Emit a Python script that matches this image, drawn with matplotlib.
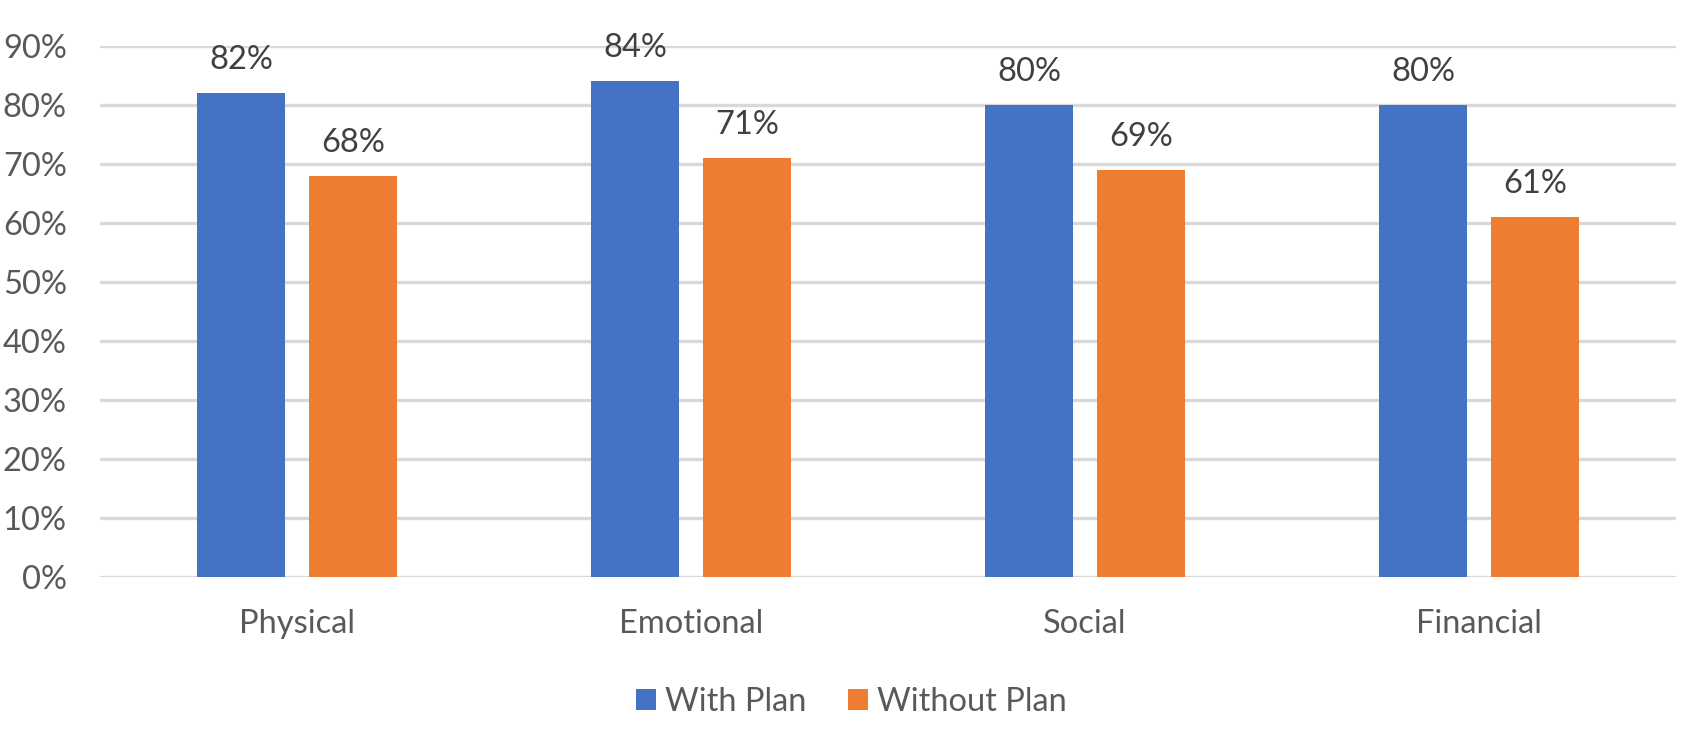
import matplotlib
matplotlib.use("Agg")
import matplotlib.pyplot as plt
import numpy as np
from matplotlib.ticker import PercentFormatter

categories = ["Physical", "Emotional", "Social", "Financial"]
with_plan = [82, 84, 80, 80]
without_plan = [68, 71, 69, 61]
series_names = ["With Plan", "Without Plan"]
yticks = [0, 10, 20, 30, 40, 50, 60, 70, 80, 90]

plt.rcParams['font.family'] = ['Lato', 'DejaVu Sans']
FS = 23.5

fig = plt.figure(figsize=(16.98, 7.32), dpi=100)
ax = fig.add_axes([100/1698, 1 - 577/732, (1676-100)/1698, (577-46)/732])

x = np.arange(len(categories))
w = 0.223
off = 0.142
b1 = ax.bar(x - off, with_plan, w, color="#4472C4", label=series_names[0], zorder=3)
b2 = ax.bar(x + off, without_plan, w, color="#ED7D31", label=series_names[1], zorder=3)

for bars in (b1, b2):
    ax.bar_label(bars, labels=[f"{int(v)}%" for v in bars.datavalues], padding=13,
                 fontsize=FS, color="#404040")

ax.set_xlim(-0.5, 3.5)
ax.set_ylim(0, 90)
ax.set_yticks(yticks)
ax.yaxis.set_major_formatter(PercentFormatter(decimals=0))
ax.set_xticks(x)
ax.set_xticklabels(categories)
ax.tick_params(axis='both', length=0, labelsize=FS, labelcolor="#595959")
ax.tick_params(axis='y', pad=24)
ax.tick_params(axis='x', pad=23)
ax.grid(axis='y', color="#D9D9D9", linewidth=2.4, zorder=0)
ax.set_axisbelow(True)
for s in ax.spines.values():
    s.set_visible(False)

fig.legend(handles=[b1, b2], labels=series_names, loc='center',
           bbox_to_anchor=(851.5/1698, 1 - 702/732), ncol=2, frameon=False,
           fontsize=FS, handlelength=0.61, handleheight=0.61, handletextpad=0.28,
           columnspacing=1.26, labelcolor="#595959")

fig.savefig("out.png", dpi=100)
